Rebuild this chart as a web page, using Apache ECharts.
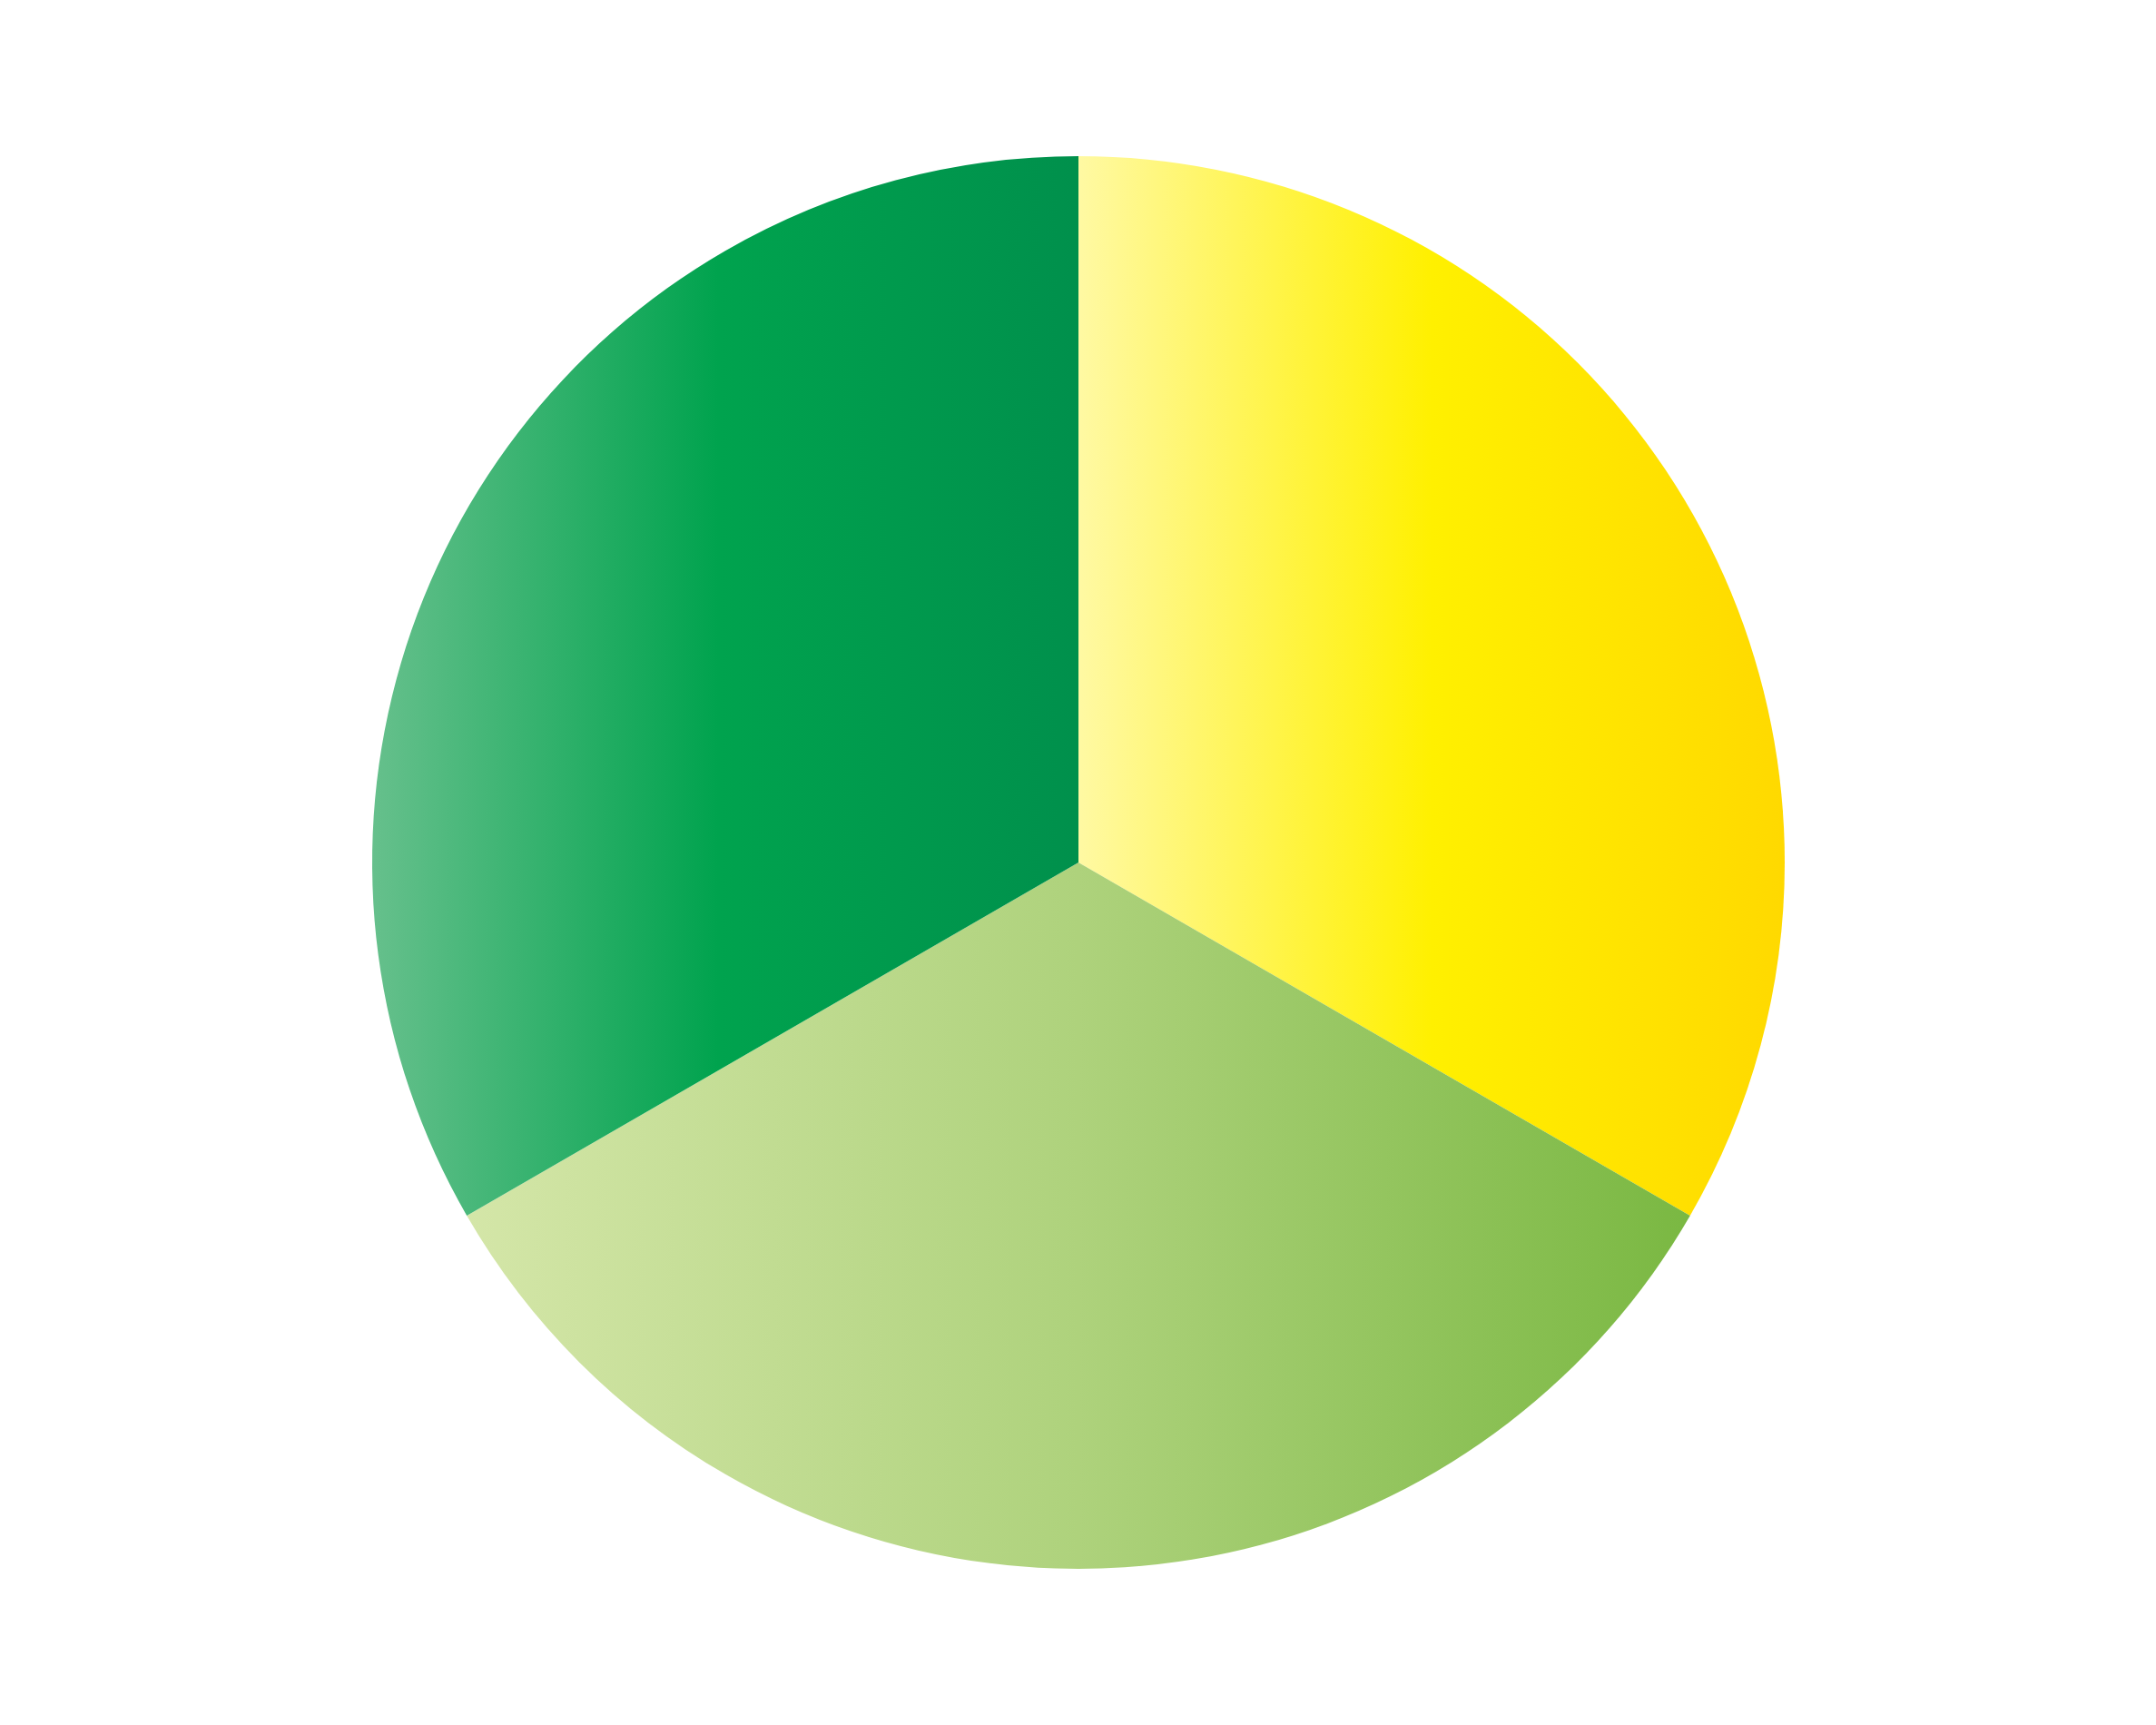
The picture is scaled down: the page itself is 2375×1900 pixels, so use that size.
<!DOCTYPE html>
<html>
<head>
<meta charset="utf-8">
<script src="https://cdn.jsdelivr.net/npm/echarts@6/dist/echarts.min.js"></script>
<style>html,body{margin:0;padding:0;background:#fff}#c{width:2375px;height:1900px}</style>
</head>
<body>
<div id="c"></div>
<script>
const categories = ['Yellow', 'Light green', 'Dark green'];
const values = [1, 1, 1];
const gradients = [
  [[0, '#FFF9A3'], [0.5, '#FFF000'], [1, '#FFD900']],
  [[0, '#D4E6A8'], [0.5, '#AED27C'], [1, '#7AB842']],
  [[0, '#66C08C'], [0.49, '#00A34E'], [1, '#00904C']]
];
const CX = 1188, CY = 950, R = 778;
// horizontal extent of each slice (fraction of radius, relative to centre)
const spans = [[0, 1], [-Math.cos(Math.PI / 6), Math.cos(Math.PI / 6)], [-1, 0]];
const chart = echarts.init(document.getElementById('c'), null, {renderer: 'canvas'});
chart.setOption({
  animation: false,
  backgroundColor: '#ffffff',
  series: [{
    type: 'pie',
    center: [CX, CY],
    radius: R,
    startAngle: 90,
    clockwise: true,
    label: {show: false},
    labelLine: {show: false},
    emphasis: {disabled: true},
    itemStyle: {borderWidth: 0},
    data: categories.map((n, i) => ({
      name: n,
      value: values[i],
      itemStyle: {
        color: new echarts.graphic.LinearGradient(
          CX + spans[i][0] * R, CY, CX + spans[i][1] * R, CY,
          gradients[i].map(s => ({offset: s[0], color: s[1]})), true)
      }
    }))
  }]
});
</script>
</body>
</html>
